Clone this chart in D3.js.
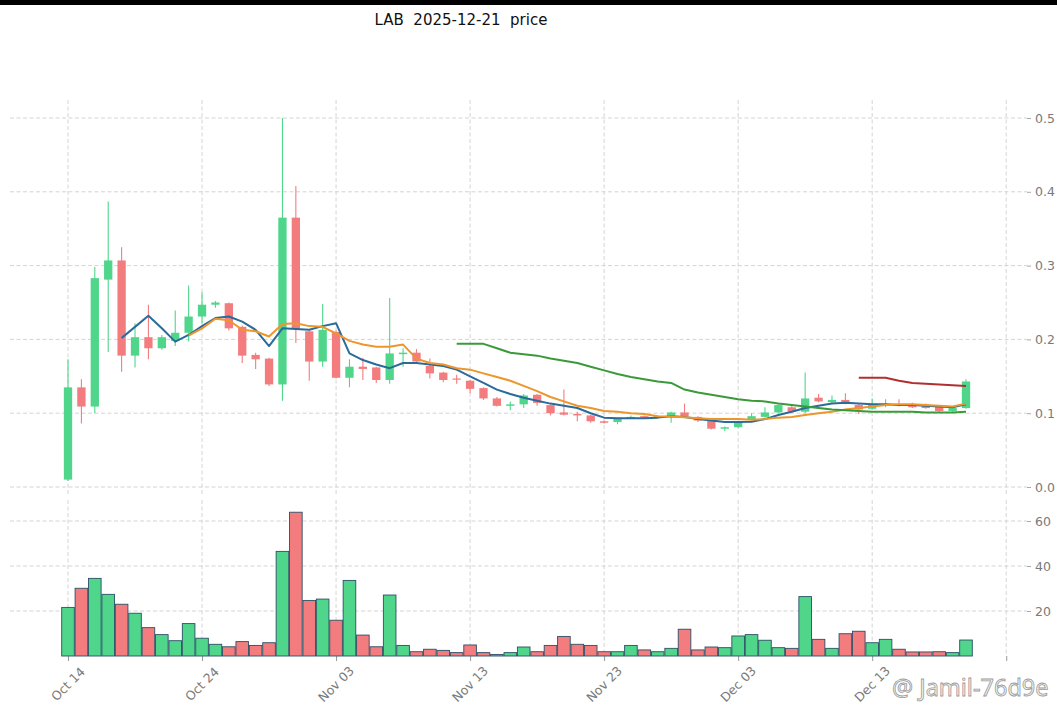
<!DOCTYPE html>
<html>
<head>
<meta charset="utf-8">
<script src="https://cdn.jsdelivr.net/npm/d3@7"></script>
<style>
  html, body { margin: 0; padding: 0; background: #fff; }
  svg { display: block; font-family: "DejaVu Sans", sans-serif; }
</style>
</head>
<body>
<svg id="chart" width="1057" height="711"></svg>
<script>
// ---------------- DATA ----------------
const dates = ["Oct 14","Oct 15","Oct 16","Oct 17","Oct 18","Oct 19","Oct 20","Oct 21","Oct 22","Oct 23",
  "Oct 24","Oct 25","Oct 26","Oct 27","Oct 28","Oct 29","Oct 30","Oct 31","Nov 01","Nov 02",
  "Nov 03","Nov 04","Nov 05","Nov 06","Nov 07","Nov 08","Nov 09","Nov 10","Nov 11","Nov 12",
  "Nov 13","Nov 14","Nov 15","Nov 16","Nov 17","Nov 18","Nov 19","Nov 20","Nov 21","Nov 22",
  "Nov 23","Nov 24","Nov 25","Nov 26","Nov 27","Nov 28","Nov 29","Nov 30","Dec 01","Dec 02",
  "Dec 03","Dec 04","Dec 05","Dec 06","Dec 07","Dec 08","Dec 09","Dec 10","Dec 11","Dec 12",
  "Dec 13","Dec 14","Dec 15","Dec 16","Dec 17","Dec 18","Dec 19","Dec 20"];

const open  = [0.010,0.135,0.109,0.281,0.307,0.178,0.203,0.188,0.198,0.209,
  0.231,0.247,0.249,0.217,0.179,0.174,0.139,0.365,0.211,0.170,
  0.210,0.148,0.163,0.162,0.145,0.180,0.182,0.164,0.155,0.147,
  0.144,0.134,0.120,0.110,0.112,0.125,0.111,0.101,0.099,0.097,
  0.089,0.088,0.093,0.096,0.094,0.095,0.101,0.095,0.090,0.079,
  0.081,0.092,0.095,0.101,0.108,0.102,0.121,0.115,0.118,0.111,
  0.106,0.110,0.112,0.112,0.111,0.109,0.103,0.107];
const high  = [0.173,0.146,0.298,0.387,0.325,0.222,0.247,0.206,0.239,0.273,
  0.264,0.252,0.250,0.219,0.182,0.175,0.500,0.408,0.212,0.248,
  0.212,0.173,0.175,0.163,0.256,0.188,0.187,0.174,0.156,0.152,
  0.145,0.135,0.122,0.116,0.126,0.126,0.112,0.132,0.102,0.098,
  0.090,0.094,0.097,0.097,0.097,0.102,0.113,0.096,0.091,0.082,
  0.089,0.100,0.108,0.112,0.110,0.155,0.126,0.124,0.127,0.112,
  0.120,0.119,0.119,0.114,0.113,0.110,0.109,0.146];
const low   = [0.008,0.086,0.100,0.183,0.156,0.162,0.173,0.186,0.191,0.197,
  0.222,0.243,0.212,0.168,0.160,0.137,0.117,0.195,0.144,0.163,
  0.147,0.135,0.145,0.141,0.140,0.163,0.168,0.147,0.142,0.140,
  0.127,0.118,0.109,0.104,0.107,0.110,0.097,0.097,0.089,0.087,
  0.086,0.085,0.092,0.092,0.093,0.087,0.094,0.088,0.078,0.076,
  0.080,0.091,0.094,0.100,0.101,0.100,0.115,0.113,0.112,0.099,
  0.105,0.108,0.109,0.107,0.106,0.101,0.102,0.106];
const close = [0.135,0.109,0.283,0.307,0.178,0.203,0.188,0.203,0.209,0.231,
  0.247,0.250,0.215,0.178,0.173,0.139,0.365,0.214,0.170,0.213,
  0.148,0.163,0.160,0.145,0.181,0.182,0.170,0.154,0.145,0.146,
  0.133,0.120,0.110,0.112,0.124,0.114,0.100,0.098,0.097,0.089,
  0.087,0.093,0.095,0.094,0.096,0.101,0.096,0.090,0.079,0.081,
  0.088,0.096,0.101,0.111,0.102,0.120,0.116,0.118,0.114,0.105,
  0.112,0.112,0.110,0.108,0.107,0.103,0.107,0.143];
const volume = [21.6,30.1,34.5,27.4,23.0,19.0,12.6,9.5,6.8,14.4,
  7.9,5.2,4.1,6.4,4.7,5.9,46.5,63.9,24.7,25.3,
  15.9,33.6,9.3,4.1,27.1,4.7,1.9,3.0,2.5,1.5,
  4.9,1.5,0.7,1.5,4.0,1.9,4.7,8.7,5.2,4.7,
  1.9,1.9,4.7,2.7,1.9,3.4,11.9,2.7,4.0,3.7,
  8.9,9.5,7.0,3.7,3.4,26.4,7.4,3.4,9.9,11.0,
  5.9,7.4,3.0,1.8,1.8,1.9,1.5,7.1];

// moving averages (first index where each starts)
const ma5Start = 4;
const ma5 = [0.202,0.217,0.232,0.215,0.197,0.206,0.218,0.229,0.231,0.224,
  0.213,0.191,0.215,0.214,0.213,0.218,0.222,0.181,0.172,0.166,
  0.161,0.168,0.168,0.166,0.164,0.159,0.150,0.141,0.132,0.126,
  0.121,0.117,0.113,0.110,0.107,0.100,0.094,0.093,0.093,0.093,
  0.094,0.096,0.095,0.092,0.090,0.088,0.088,0.0885,0.092,0.0975,
  0.102,0.107,0.110,0.113,0.114,0.113,0.112,0.112,0.111,0.111,
  0.110,0.109,0.108,0.112];
const ma10Start = 9;
const ma10 = [0.205,0.215,0.228,0.226,0.213,0.211,0.204,0.221,0.222,0.218,
  0.217,0.208,0.198,0.193,0.190,0.190,0.193,0.174,0.168,0.166,
  0.161,0.159,0.154,0.149,0.144,0.137,0.130,0.122,0.116,0.110,
  0.107,0.103,0.102,0.100,0.099,0.096,0.0955,0.0945,0.093,0.092,
  0.092,0.092,0.091,0.092,0.094,0.095,0.0975,0.100,0.102,0.105,
  0.107,0.109,0.111,0.112,0.112,0.111,0.110,0.109,0.113];
const ma30Start = 29;
const ma30 = [0.194,0.194,0.194,0.188,0.182,0.180,0.178,0.174,0.171,0.168,
  0.163,0.158,0.153,0.149,0.146,0.143,0.141,0.132,0.128,0.125,
  0.122,0.119,0.117,0.116,0.113,0.111,0.109,0.107,0.105,0.104,
  0.103,0.102,0.102,0.102,0.102,0.101,0.101,0.101,0.102];
const ma60Start = 59;
const ma60 = [0.148,0.148,0.148,0.144,0.141,0.140,0.139,0.138,0.137];

const xTickIdx = [0,10,20,30,40,50,60,70];
const xTickLabels = ["Oct 14","Oct 24","Nov 03","Nov 13","Nov 23","Dec 03","Dec 13",""];
const priceTicks = [0.0,0.1,0.2,0.3,0.4,0.5];
const volTicks = [20,40,60];
const titleText = "LAB  2025-12-21  price";
const watermark = "@ Jamil-76d9e";

// ---------------- STYLE ----------------
const UP = "#50d68b", DOWN = "#f37c7f";
const VOL_EDGE = "#2a4f66";
const MA_COLORS = ["#2a6b9a", "#ec962c", "#3a9a3a", "#b03030"];
const GRID = "#cfcfcf";
const TICK_TXT = "#7a7a7a";

const svg = d3.select("#chart");
const W = 1057, H = 711;
const plotL = 10, plotR = 1027;
const priceTop = 100, priceBot = 495;
const volTop = 500, volBot = 656;

const x = d3.scaleLinear().domain([0, 67]).range([68, 966]);
const yP = d3.scaleLinear().domain([0, 0.5]).range([487, 118]);
const yV = d3.scaleLinear().domain([0, 60]).range([volBot, 521]);
const step = x(1) - x(0);

// top black bar
svg.append("rect").attr("x",0).attr("y",0).attr("width",W).attr("height",5).attr("fill","#000");

// title
svg.append("text").attr("x", 461).attr("y", 25).attr("text-anchor","middle")
  .style("white-space","pre").attr("font-size", 15).attr("fill","#111").text(titleText);

// grids
const grid = svg.append("g").attr("stroke", GRID).attr("stroke-width", 0.9).attr("stroke-dasharray","4,2.5");
priceTicks.forEach(t => grid.append("line").attr("x1",plotL).attr("x2",plotR).attr("y1",yP(t)).attr("y2",yP(t)));
volTicks.forEach(t => grid.append("line").attr("x1",plotL).attr("x2",plotR).attr("y1",yV(t)).attr("y2",yV(t)));
xTickIdx.forEach(i => {
  grid.append("line").attr("x1",x(i)).attr("x2",x(i)).attr("y1",priceTop).attr("y2",priceBot);
  grid.append("line").attr("x1",x(i)).attr("x2",x(i)).attr("y1",volTop).attr("y2",volBot);
});

// right axes via d3 axes
const axP = d3.axisRight(yP).tickValues(priceTicks).tickFormat(d3.format(".1f")).tickSize(4).tickPadding(4);
const gP = svg.append("g").attr("transform", `translate(${plotR},0)`).call(axP);
const axV = d3.axisRight(yV).tickValues(volTicks).tickFormat(d3.format("d")).tickSize(4).tickPadding(4);
const gV = svg.append("g").attr("transform", `translate(${plotR},0)`).call(axV);
[gP, gV].forEach(g => {
  g.select(".domain").remove();
  g.selectAll(".tick line").attr("stroke","#aaa");
  g.selectAll(".tick text").attr("fill", TICK_TXT).attr("font-size", 12.5).attr("font-family","DejaVu Sans");
});

// bottom x ticks (marks via axis, labels placed rotated)
const axX = d3.axisBottom(x).tickValues(xTickIdx).tickFormat("").tickSize(5);
const gX = svg.append("g").attr("transform", `translate(0,${volBot})`).call(axX);
gX.select(".domain").remove();
gX.selectAll(".tick line").attr("stroke","#999");
const lblY = 684;
svg.append("g").selectAll("text").data(xTickIdx.filter((d,i) => xTickLabels[i] !== "")).join("text")
  .attr("x", d => x(d)).attr("y", lblY)
  .attr("text-anchor","middle").attr("dominant-baseline","central")
  .attr("transform", d => `rotate(-45, ${x(d)}, ${lblY})`)
  .attr("fill", TICK_TXT).attr("font-size", 12.5)
  .text((d,i) => xTickLabels[i]);

// volume bars
const vw = step * 0.94;
svg.append("g").selectAll("rect").data(volume).join("rect")
  .attr("x", (d,i) => x(i) - vw/2)
  .attr("y", d => yV(d))
  .attr("width", vw)
  .attr("height", d => yV(0) - yV(d))
  .attr("fill", (d,i) => close[i] >= open[i] ? UP : DOWN)
  .attr("stroke", VOL_EDGE).attr("stroke-width", 0.9);

// candles
const cw = step * 0.62;
const cg = svg.append("g");
dates.forEach((d,i) => {
  const col = close[i] >= open[i] ? UP : DOWN;
  cg.append("line").attr("x1",x(i)).attr("x2",x(i)).attr("y1",yP(high[i])).attr("y2",yP(low[i]))
    .attr("stroke",col).attr("stroke-width",1.1);
  const top = yP(Math.max(open[i], close[i])), bot = yP(Math.min(open[i], close[i]));
  cg.append("rect").attr("x", x(i)-cw/2).attr("y", top).attr("width", cw).attr("height", Math.max(bot-top, 1.2))
    .attr("fill", col);
});

// moving averages
const line = d3.line().x(d => x(d[0])).y(d => yP(d[1]));
[[ma5,ma5Start],[ma10,ma10Start],[ma30,ma30Start],[ma60,ma60Start]].forEach(([arr,s],k) => {
  svg.append("path").datum(arr.map((v,j) => [s+j, v])).attr("d", line)
    .attr("fill","none").attr("stroke", MA_COLORS[k]).attr("stroke-width", 2).attr("stroke-linejoin","round");
});

// watermark
svg.append("text").attr("x", 892).attr("y", 696).attr("font-size", 23.5).attr("font-family","Noto Sans, DejaVu Sans")
  .attr("fill","#f4f4f4").attr("stroke","#9a9a9a").attr("stroke-width",0.8).text(watermark);
</script>
</body>
</html>
